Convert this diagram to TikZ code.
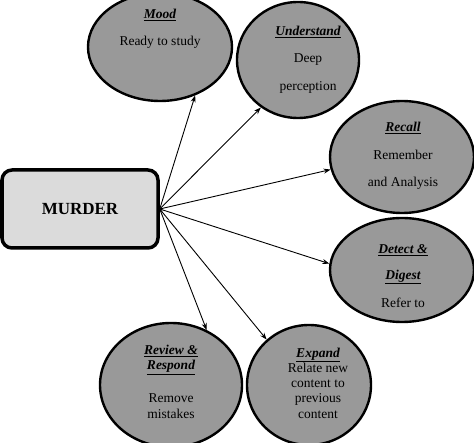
\documentclass[tikz,border=0pt]{standalone}
\usepackage{fontspec}
\setmainfont{Liberation Serif}
\usepackage{xcolor}
\usetikzlibrary{shapes.geometric, arrows.meta, positioning}
\tikzstyle{arrow} = [line width=0.9pt,->,>={Stealth[length=7pt,width=5pt]}]
\tikzstyle{topic} = [ellipse, draw=black, line width=2.4pt, fill=black!40, inner sep=0pt]
\tikzstyle{hub} = [rectangle, rounded corners=10pt, draw=black, line width=3.5pt, fill=black!14, minimum width=156pt, minimum height=78pt, font=\fontsize{17}{20}\selectfont\bfseries]
\tikzstyle{txt} = [inner sep=0pt, font=\fontsize{13.5}{15.3}\selectfont]
\newcommand{\ttl}[1]{\textbf{\textit{\underline{#1}}}}

\begin{document}
\begin{tikzpicture}[x=1pt, y=1pt]
\useasboundingbox (0,0) rectangle (474,442);

% Central box
\node (murder) [hub] at (80,233) {MURDER};

% Topics
\node (mood) [topic, minimum width=144pt, minimum height=108pt] at (160,395) {};
\node (understand) [topic, minimum width=122pt, minimum height=116pt] at (298,382) {};
\node (recall) [topic, minimum width=144pt, minimum height=112pt] at (402,285) {};
\node (detect) [topic, minimum width=144pt, minimum height=104pt] at (402,172) {};
\node (review) [topic, minimum width=142pt, minimum height=124pt] at (171,57) {};
\node (expand) [topic, minimum width=124pt, minimum height=120pt] at (309,57) {};

% Texts
\node (moodA) [txt] at (160,427) {\ttl{Mood}};
\node (moodB) [txt] at (160,400) {Ready to study};
\node (underA) [txt] at (308,410) {\ttl{Understand}};
\node (underB) [txt] at (308,382) {Deep};
\node (underC) [txt] at (308,355) {perception};
\node (recallA) [txt] at (403,314) {\ttl{Recall}};
\node (recallB) [txt] at (403,287) {Remember};
\node (recallC) [txt] at (403,259) {and Analysis};
\node (detectA) [txt] at (403,192) {\ttl{Detect \&}};
\node (detectB) [txt] at (403,165) {\ttl{Digest}};
\node (detectC) [txt] at (403,139) {Refer to};
\node (reviewA) [txt, align=center] at (171,82) {\ttl{Review \&}\\\ttl{Respond}};
\node (reviewB) [txt, align=center] at (171,36) {Remove\\mistakes};
\node (expandA) [txt, align=center] at (318,59) {\ttl{Expand}\\Relate new\\content to\\previous\\content};

% Connections
\draw [arrow] (murder.east) -- (mood.-54);
\draw [arrow] (murder.east) -- (understand.-128);
\draw [arrow] (murder.east) -- (recall.190);
\draw [arrow] (murder.east) -- (detect.175);
\draw [arrow] (murder.east) -- (review.57);
\draw [arrow] (murder.east) -- (expand.133);

\end{tikzpicture}
\end{document}
